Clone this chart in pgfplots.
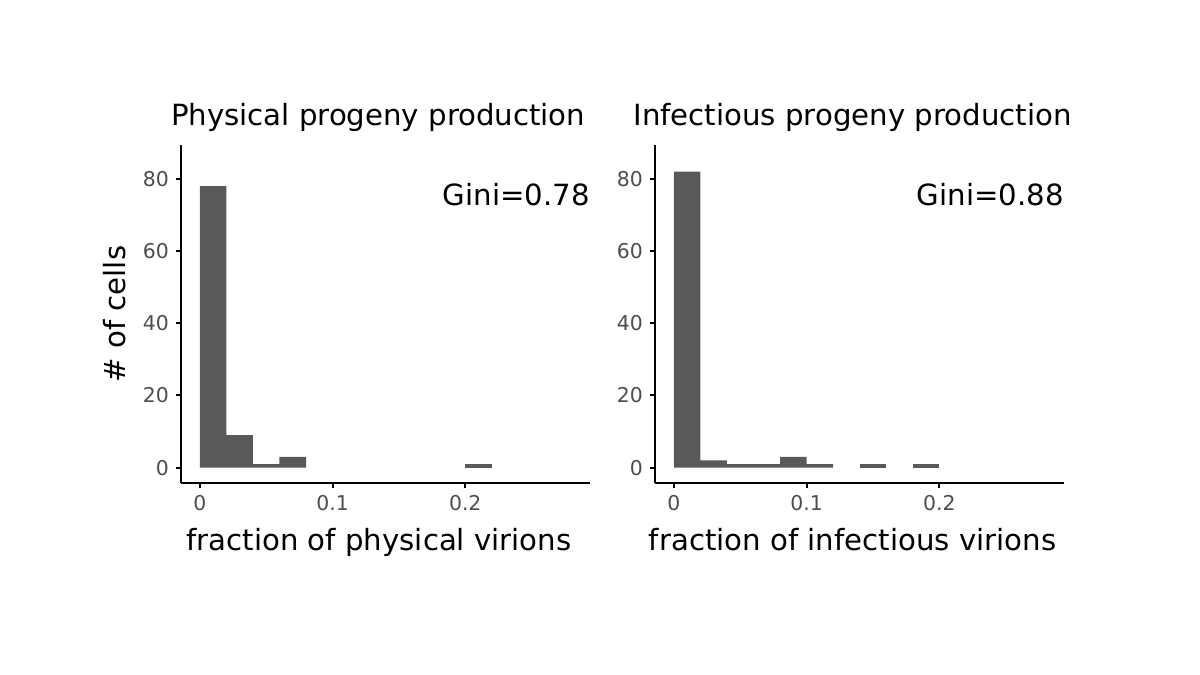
\documentclass[border=0pt]{standalone}
\usepackage{fontspec}
\setmainfont{DejaVu Sans}
\usepackage{pgfplots}
\pgfplotsset{compat=1.18}

\definecolor{barfill}{HTML}{595959}
\definecolor{ticktext}{HTML}{4D4D4D}

\tikzset{bigtext/.style={font=\fontsize{14.6pt}{17pt}\selectfont, inner sep=0pt}}

\pgfplotsset{
  histpanel/.style={
    scale only axis,
    width=204.5pt, height=169pt,
    xmin=-0.0142, xmax=0.294,
    ymin=-4.25, ymax=89.4,
    axis x line*=bottom, axis y line*=left,
    axis line style={-, line width=1pt, black},
    tick align=outside,
    major tick length=2.5pt,
    every tick/.style={black, line width=1pt},
    xtick={0,0.1,0.2},
    ytick={0,20,40,60,80},
    /pgf/number format/assume math mode=true,
    tick label style={font=\fontsize{10.2pt}{12pt}\selectfont, text=ticktext},
    clip=false,
  },
  histbar/.style={ybar interval, fill=barfill, draw=none},
}

\begin{document}
\begin{tikzpicture}
\path[use as bounding box] (0,0) rectangle (600pt,337.5pt);

% physical virions (bin width 0.02; empty bins are left out)
\begin{axis}[histpanel, at={(90.5pt,96pt)}, anchor=south west]
  \addplot[histbar] coordinates {
    (0.00,78) (0.02,9) (0.04,1) (0.06,3) (0.08,3)
  };
  \addplot[histbar] coordinates {(0.20,1) (0.22,1)};
  \node[bigtext, anchor=base] at ([yshift=9.75pt]rel axis cs:0.482,1) {Physical progeny production};
  \node[bigtext, anchor=base] at ([yshift=-33.85pt]rel axis cs:0.484,0) {fraction of physical virions};
  \node[bigtext, anchor=base east] at (rel axis cs:1,0.8195) {Gini=0.78};
  \node[bigtext, anchor=center, rotate=90] at ([xshift=-33pt]rel axis cs:0,0.5) {\# of cells};
\end{axis}

% infectious virions
\begin{axis}[histpanel, at={(327.5pt,96pt)}, anchor=south west]
  \addplot[histbar] coordinates {
    (0.00,82) (0.02,2) (0.04,1) (0.06,1) (0.08,3) (0.10,1) (0.12,1)
  };
  \addplot[histbar] coordinates {(0.14,1) (0.16,1)};
  \addplot[histbar] coordinates {(0.18,1) (0.20,1)};
  \node[bigtext, anchor=base] at ([yshift=9.75pt]rel axis cs:0.483,1) {Infectious progeny production};
  \node[bigtext, anchor=base] at ([yshift=-33.85pt]rel axis cs:0.483,0) {fraction of infectious virions};
  \node[bigtext, anchor=base east] at (rel axis cs:1,0.8195) {Gini=0.88};
\end{axis}
\end{tikzpicture}
\end{document}
